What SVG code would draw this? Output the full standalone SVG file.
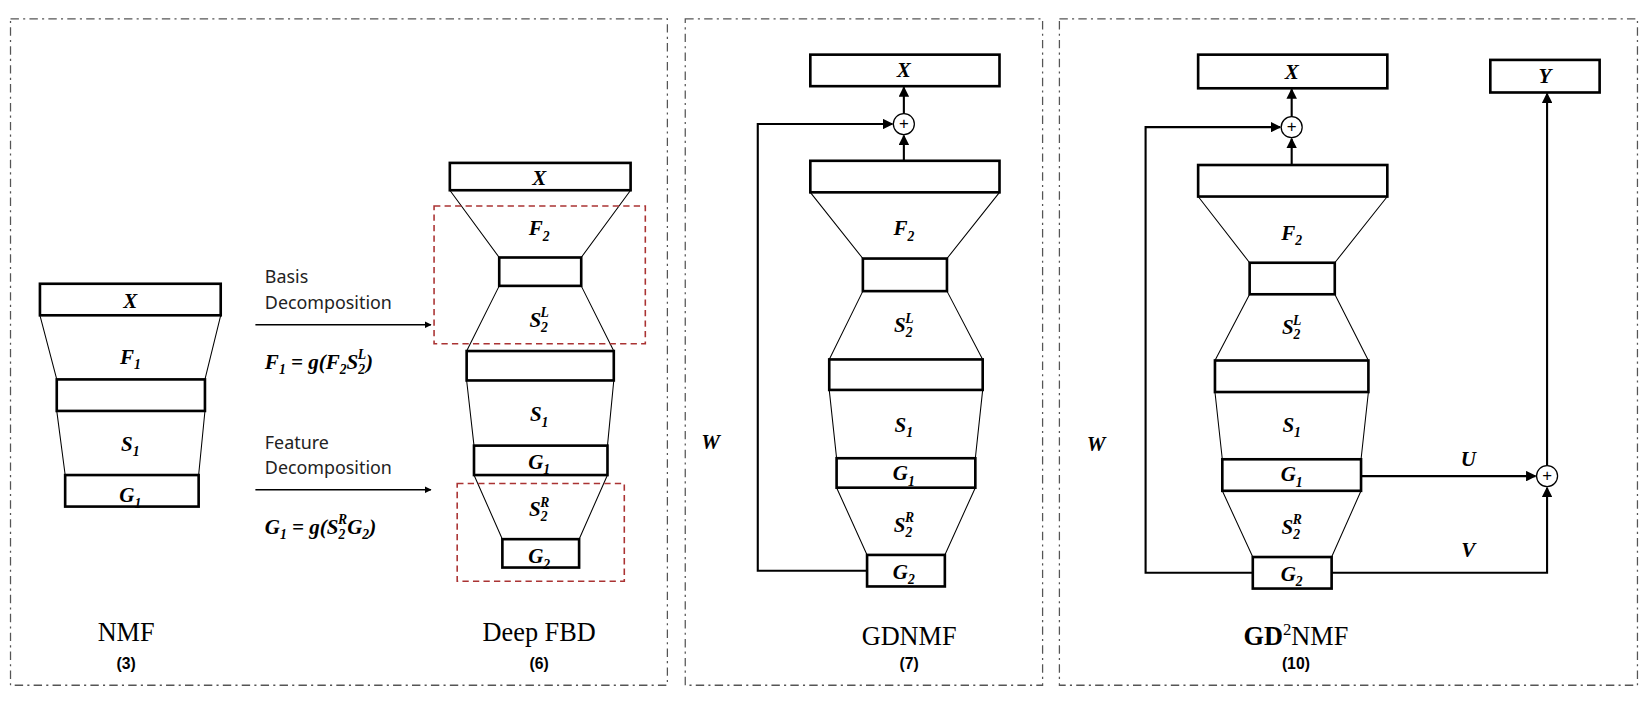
<svg xmlns="http://www.w3.org/2000/svg" width="1648" height="703" viewBox="0 0 1648 703">
<defs>
<style>
.panel{fill:none;stroke:#555;stroke-width:1.2;stroke-dasharray:8 4 2 4}
.box{fill:#fff;stroke:#000;stroke-width:2.5}
.ln{stroke:#000;stroke-width:1;fill:none}
.red{fill:none;stroke:#a33;stroke-width:1.5;stroke-dasharray:6 4}
.m{font-family:"Liberation Serif",serif;font-weight:bold;font-style:italic;font-size:20px;text-anchor:middle}
.ms{font-family:"Liberation Serif",serif;font-weight:bold;font-style:italic;font-size:20px;text-anchor:start}
.s{font-size:13px}
.t{font-family:"Noto Sans",sans-serif;font-size:17px;fill:#222}
.cap{font-family:"Liberation Serif",serif;font-size:25px;text-anchor:middle}
.num{font-family:"Liberation Sans",sans-serif;font-weight:bold;font-size:15px;text-anchor:middle}
.arr{stroke:#000;stroke-width:2;fill:none;marker-end:url(#ah)}
.arr1{stroke:#000;stroke-width:1.3;fill:none;marker-end:url(#ah)}
.circ{fill:#fff;stroke:#000;stroke-width:1.2}
</style>
<marker id="ah" viewBox="0 0 10 10" refX="9" refY="5" markerWidth="5" markerHeight="5" orient="auto"><path d="M0,0 L10,5 L0,10 z" fill="#000"/></marker>
</defs>
<rect width="1648" height="703" fill="#fff"/>
<g transform="scale(1.051)">
<rect class="panel" x="10" y="18" width="625" height="634"/>
<rect class="panel" x="652" y="18" width="340" height="634"/>
<rect class="panel" x="1008" y="18" width="550" height="634"/>

<g id="nmf">
<path class="ln" d="M38,300 L54,361 M210,300 L195,361 M54,391 L62,452 M195,391 L189,452"/>
<rect class="box" x="38" y="270" width="172" height="30"/>
<rect class="box" x="54" y="361" width="141" height="30"/>
<rect class="box" x="62" y="452" width="127" height="30"/>
<text class="m" x="124" y="293">X</text>
<text class="m" x="124" y="346">F<tspan class="s" dy="5">1</tspan></text>
<text class="m" x="124" y="429">S<tspan class="s" dy="5">1</tspan></text>
<text class="m" x="124" y="478">G<tspan class="s" dy="5">1</tspan></text>
<text class="cap" x="120" y="610">NMF</text>
<text class="num" x="120" y="637">(3)</text>
</g>

<g id="deepfbd">
<path class="ln" d="M428,181 L475,245 M600,181 L553,245 M475,272 L444,334 M553,272 L584,334 M444,362 L451,424 M584,362 L578,424 M451,452 L478,513 M578,452 L551,513"/>
<rect class="box" x="428" y="155" width="172" height="26"/>
<rect class="box" x="475" y="245" width="78" height="27"/>
<rect class="box" x="444" y="334" width="140" height="28"/>
<rect class="box" x="451" y="424" width="127" height="28"/>
<rect class="box" x="478" y="513" width="73" height="27"/>
<rect class="red" x="413" y="196" width="201" height="131"/>
<rect class="red" x="435" y="460" width="159" height="93"/>
<text class="m" x="513" y="176">X</text>
<text class="m" x="513" y="224">F<tspan class="s" dy="5">2</tspan></text>
<text class="m" x="513" y="311">S<tspan class="s" dy="5">2</tspan><tspan class="s" dx="-7" dy="-14">L</tspan></text>
<text class="m" x="513" y="401">S<tspan class="s" dy="5">1</tspan></text>
<text class="m" x="513" y="446">G<tspan class="s" dy="5">1</tspan></text>
<text class="m" x="513" y="491">S<tspan class="s" dy="5">2</tspan><tspan class="s" dx="-7" dy="-14">R</tspan></text>
<text class="m" x="513" y="536">G<tspan class="s" dy="5">2</tspan></text>
<text class="cap" x="513" y="610">Deep FBD</text>
<text class="num" x="513" y="637">(6)</text>
</g>

<g id="gdnmf">
<path class="ln" d="M771,183 L821,246 M951,183 L901,246 M821,277 L789,342 M901,277 L935,342 M789,371 L796,436 M935,371 L928,436 M796,464 L825,528 M928,464 L899,528"/>
<rect class="box" x="771" y="52" width="180" height="30"/>
<rect class="box" x="771" y="153" width="180" height="30"/>
<rect class="box" x="821" y="246" width="80" height="31"/>
<rect class="box" x="789" y="342" width="146" height="29"/>
<rect class="box" x="796" y="436" width="132" height="28"/>
<rect class="box" x="825" y="528" width="74" height="30"/>
<circle class="circ" cx="860" cy="118" r="10"/>
<text x="860" y="123" font-family="Liberation Sans,sans-serif" font-size="16" text-anchor="middle">+</text>
<text class="m" x="860" y="73">X</text>
<text class="m" x="860" y="224">F<tspan class="s" dy="5">2</tspan></text>
<text class="m" x="860" y="316">S<tspan class="s" dy="5">2</tspan><tspan class="s" dx="-7" dy="-14">L</tspan></text>
<text class="m" x="860" y="411">S<tspan class="s" dy="5">1</tspan></text>
<text class="m" x="860" y="457">G<tspan class="s" dy="5">1</tspan></text>
<text class="m" x="860" y="506">S<tspan class="s" dy="5">2</tspan><tspan class="s" dx="-7" dy="-14">R</tspan></text>
<text class="m" x="860" y="551">G<tspan class="s" dy="5">2</tspan></text>
<text class="m" x="676" y="427">W</text>
<text class="cap" x="865" y="614">GDNMF</text>
<text class="num" x="865" y="637">(7)</text>
</g>

<g id="gd2nmf">
<path class="ln" d="M1140,187 L1189,250 M1320,187 L1270,250 M1189,280 L1156,343 M1270,280 L1302,343 M1156,373 L1163,437 M1302,373 L1295,437 M1163,467 L1192,530 M1295,467 L1267,530"/>
<rect class="box" x="1140" y="52" width="180" height="32"/>
<rect class="box" x="1418" y="57" width="104" height="31"/>
<rect class="box" x="1140" y="157" width="180" height="30"/>
<rect class="box" x="1189" y="250" width="81" height="30"/>
<rect class="box" x="1156" y="343" width="146" height="30"/>
<rect class="box" x="1163" y="437" width="132" height="30"/>
<rect class="box" x="1192" y="530" width="75" height="30"/>
<circle class="circ" cx="1229" cy="121" r="10"/>
<text x="1229" y="126" font-family="Liberation Sans,sans-serif" font-size="16" text-anchor="middle">+</text>
<circle class="circ" cx="1472" cy="453" r="10"/>
<text x="1472" y="458" font-family="Liberation Sans,sans-serif" font-size="16" text-anchor="middle">+</text>
<text class="m" x="1229" y="75">X</text>
<text class="m" x="1470" y="79">Y</text>
<text class="m" x="1229" y="228">F<tspan class="s" dy="5">2</tspan></text>
<text class="m" x="1229" y="318">S<tspan class="s" dy="5">2</tspan><tspan class="s" dx="-7" dy="-14">L</tspan></text>
<text class="m" x="1229" y="411">S<tspan class="s" dy="5">1</tspan></text>
<text class="m" x="1229" y="458">G<tspan class="s" dy="5">1</tspan></text>
<text class="m" x="1229" y="508">S<tspan class="s" dy="5">2</tspan><tspan class="s" dx="-7" dy="-14">R</tspan></text>
<text class="m" x="1229" y="553">G<tspan class="s" dy="5">2</tspan></text>
<text class="m" x="1043" y="429">W</text>
<text class="m" x="1397" y="443">U</text>
<text class="m" x="1397" y="530">V</text>
<text class="cap" x="1233" y="614"><tspan font-weight="bold">GD</tspan><tspan font-size="16" dy="-10">2</tspan><tspan dy="10">NMF</tspan></text>
<text class="num" x="1233" y="637">(10)</text>
</g>

<g id="connectors">
<line class="arr1" x1="243" y1="309" x2="410" y2="309"/>
<line class="arr1" x1="243" y1="466" x2="410" y2="466"/>
<text class="t" x="252" y="269">Basis</text>
<text class="t" x="252" y="294">Decomposition</text>
<text class="ms" x="252" y="351">F<tspan class="s" dy="5">1</tspan><tspan dy="-5"> = g(F</tspan><tspan class="s" dy="5">2</tspan><tspan dy="-5">S</tspan><tspan class="s" dy="5">2</tspan><tspan class="s" dx="-7" dy="-14">L</tspan><tspan dy="9">)</tspan></text>
<text class="t" x="252" y="427">Feature</text>
<text class="t" x="252" y="451">Decomposition</text>
<text class="ms" x="252" y="508">G<tspan class="s" dy="5">1</tspan><tspan dy="-5"> = g(S</tspan><tspan class="s" dy="5">2</tspan><tspan class="s" dx="-7" dy="-14">R</tspan><tspan dy="9">G</tspan><tspan class="s" dy="5">2</tspan><tspan dy="-5">)</tspan></text>

<line class="arr" x1="860" y1="153" x2="860" y2="129"/>
<line class="arr" x1="860" y1="108" x2="860" y2="83"/>
<polyline class="arr" points="825,543 721,543 721,118 849,118"/>

<line class="arr" x1="1229" y1="157" x2="1229" y2="132"/>
<line class="arr" x1="1229" y1="111" x2="1229" y2="85"/>
<polyline class="arr" points="1192,545 1090,545 1090,121 1218,121"/>
<line class="arr" x1="1295" y1="453" x2="1461" y2="453"/>
<polyline class="arr" points="1267,545 1472,545 1472,464"/>
<line class="arr" x1="1472" y1="443" x2="1472" y2="89"/>
</g>
</g>
</svg>
